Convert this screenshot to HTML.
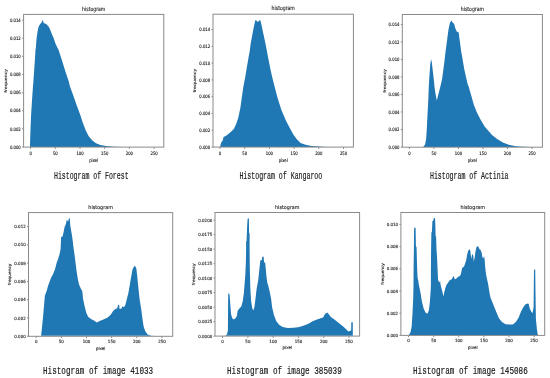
<!DOCTYPE html>
<html><head><meta charset="utf-8"><title>Histograms</title>
<style>
html,body{margin:0;padding:0;background:#fff;}
body{width:550px;height:378px;overflow:hidden;position:relative;}
svg{position:absolute;left:0;top:0;display:block;}
svg text{font-family:"DejaVu Sans","Liberation Sans",sans-serif;stroke:#262626;stroke-width:0.12px;}
svg text.cap{font-family:"Liberation Mono","DejaVu Sans Mono",monospace;font-size:10px;fill:#222;stroke:#222;stroke-width:0.2px;}
</style></head><body>
<svg width="550" height="378" viewBox="0 0 550 378">
<g>
<polygon points="30.0,147.0 30.1,141.0 30.5,129.6 31.1,115.0 32.0,100.5 33.0,86.0 33.5,80.0 34.2,70.0 34.9,60.0 35.5,50.0 35.9,47.2 36.5,39.1 37.5,32.1 38.5,27.1 40.1,24.1 41.6,22.5 42.3,20.5 43.1,20.5 43.6,23.0 46.1,24.0 48.6,26.5 50.1,29.6 51.6,33.6 53.6,38.1 55.6,44.1 58.2,49.2 58.6,50.0 61.2,58.0 63.7,66.1 66.2,74.1 68.7,81.2 69.8,86.0 73.0,94.7 76.6,104.9 80.3,115.1 82.9,123.1 85.8,130.4 88.7,136.2 92.4,140.5 96.0,143.2 100.4,144.9 106.2,146.1 113.5,146.7 123.6,147.0 135.0,147.1" fill="#1f77b4"/>
<rect x="23.6" y="14.4" width="140.2" height="132.7" fill="none" stroke="#8a8a8a" stroke-width="1"/>
<text transform="translate(30.60,154.90) scale(1,1.25)" font-size="3.80" text-anchor="middle" fill="#262626">0</text>
<text transform="translate(55.30,154.90) scale(1,1.25)" font-size="3.80" text-anchor="middle" fill="#262626">50</text>
<text transform="translate(80.00,154.90) scale(1,1.25)" font-size="3.80" text-anchor="middle" fill="#262626">100</text>
<text transform="translate(104.70,154.90) scale(1,1.25)" font-size="3.80" text-anchor="middle" fill="#262626">150</text>
<text transform="translate(129.40,154.90) scale(1,1.25)" font-size="3.80" text-anchor="middle" fill="#262626">200</text>
<text transform="translate(154.10,154.90) scale(1,1.25)" font-size="3.80" text-anchor="middle" fill="#262626">250</text>
<text transform="translate(20.80,148.73) scale(1,1.25)" font-size="3.80" text-anchor="end" fill="#262626">0.000</text>
<text transform="translate(20.80,130.60) scale(1,1.25)" font-size="3.80" text-anchor="end" fill="#262626">0.002</text>
<text transform="translate(20.80,112.47) scale(1,1.25)" font-size="3.80" text-anchor="end" fill="#262626">0.004</text>
<text transform="translate(20.80,94.34) scale(1,1.25)" font-size="3.80" text-anchor="end" fill="#262626">0.006</text>
<text transform="translate(20.80,76.21) scale(1,1.25)" font-size="3.80" text-anchor="end" fill="#262626">0.008</text>
<text transform="translate(20.80,58.08) scale(1,1.25)" font-size="3.80" text-anchor="end" fill="#262626">0.010</text>
<text transform="translate(20.80,39.95) scale(1,1.25)" font-size="3.80" text-anchor="end" fill="#262626">0.012</text>
<text transform="translate(20.80,21.82) scale(1,1.25)" font-size="3.80" text-anchor="end" fill="#262626">0.014</text>
<path d="M30.60,147.1v1.8 M55.30,147.1v1.8 M80.00,147.1v1.8 M104.70,147.1v1.8 M129.40,147.1v1.8 M154.10,147.1v1.8 M23.6,147.00h-1.5 M23.6,128.87h-1.5 M23.6,110.74h-1.5 M23.6,92.61h-1.5 M23.6,74.48h-1.5 M23.6,56.35h-1.5 M23.6,38.22h-1.5 M23.6,20.09h-1.5" stroke="#8a8a8a" stroke-width="1" fill="none"/>
<text transform="translate(93.70,10.50) scale(1,1.25)" font-size="4.60" text-anchor="middle" fill="#262626">histogram</text>
<text transform="translate(93.70,161.60) scale(1,1.25)" font-size="3.80" text-anchor="middle" fill="#262626">pixel</text>
<text transform="translate(7.02,80.75) scale(1,1.25) rotate(-90)" font-size="3.80" text-anchor="middle" fill="#262626">frequency</text>
<text class="cap" transform="translate(54,178.5) scale(0.655,1.06)">Histogram of Forest</text>
</g>
<g>
<polygon points="220.0,147.0 221.4,142.0 222.5,141.0 223.6,136.9 226.5,135.5 230.2,132.5 233.8,128.9 236.0,124.5 238.2,118.0 240.4,107.8 241.8,97.6 243.3,87.0 244.9,79.1 246.4,70.1 248.1,60.0 249.9,50.0 250.6,44.1 252.1,36.1 253.6,28.1 254.9,22.0 255.3,20.2 256.3,20.2 257.1,21.8 258.3,21.5 259.3,20.2 260.3,20.5 261.1,23.0 262.1,28.1 263.4,34.1 264.7,40.1 266.0,46.2 266.7,50.0 268.4,59.0 270.0,67.1 271.7,75.1 273.2,81.2 274.7,87.0 276.7,94.7 278.5,101.0 281.5,110.2 285.9,120.4 289.5,127.6 293.2,134.2 296.8,139.3 300.5,142.9 305.5,144.8 311.4,146.0 318.6,146.5 327.4,147.0" fill="#1f77b4"/>
<rect x="213.0" y="14.2" width="140.4" height="132.9" fill="none" stroke="#8a8a8a" stroke-width="1"/>
<text transform="translate(220.00,154.90) scale(1,1.25)" font-size="3.80" text-anchor="middle" fill="#262626">0</text>
<text transform="translate(244.70,154.90) scale(1,1.25)" font-size="3.80" text-anchor="middle" fill="#262626">50</text>
<text transform="translate(269.40,154.90) scale(1,1.25)" font-size="3.80" text-anchor="middle" fill="#262626">100</text>
<text transform="translate(294.10,154.90) scale(1,1.25)" font-size="3.80" text-anchor="middle" fill="#262626">150</text>
<text transform="translate(318.80,154.90) scale(1,1.25)" font-size="3.80" text-anchor="middle" fill="#262626">200</text>
<text transform="translate(343.50,154.90) scale(1,1.25)" font-size="3.80" text-anchor="middle" fill="#262626">250</text>
<text transform="translate(210.20,148.73) scale(1,1.25)" font-size="3.80" text-anchor="end" fill="#262626">0.000</text>
<text transform="translate(210.20,131.96) scale(1,1.25)" font-size="3.80" text-anchor="end" fill="#262626">0.002</text>
<text transform="translate(210.20,115.19) scale(1,1.25)" font-size="3.80" text-anchor="end" fill="#262626">0.004</text>
<text transform="translate(210.20,98.42) scale(1,1.25)" font-size="3.80" text-anchor="end" fill="#262626">0.006</text>
<text transform="translate(210.20,81.65) scale(1,1.25)" font-size="3.80" text-anchor="end" fill="#262626">0.008</text>
<text transform="translate(210.20,64.88) scale(1,1.25)" font-size="3.80" text-anchor="end" fill="#262626">0.010</text>
<text transform="translate(210.20,48.11) scale(1,1.25)" font-size="3.80" text-anchor="end" fill="#262626">0.012</text>
<text transform="translate(210.20,31.34) scale(1,1.25)" font-size="3.80" text-anchor="end" fill="#262626">0.014</text>
<path d="M220.00,147.1v1.8 M244.70,147.1v1.8 M269.40,147.1v1.8 M294.10,147.1v1.8 M318.80,147.1v1.8 M343.50,147.1v1.8 M213.0,147.00h-1.5 M213.0,130.23h-1.5 M213.0,113.46h-1.5 M213.0,96.69h-1.5 M213.0,79.92h-1.5 M213.0,63.15h-1.5 M213.0,46.38h-1.5 M213.0,29.61h-1.5" stroke="#8a8a8a" stroke-width="1" fill="none"/>
<text transform="translate(283.20,10.30) scale(1,1.25)" font-size="4.60" text-anchor="middle" fill="#262626">histogram</text>
<text transform="translate(283.20,161.60) scale(1,1.25)" font-size="3.80" text-anchor="middle" fill="#262626">pixel</text>
<text transform="translate(196.42,80.65) scale(1,1.25) rotate(-90)" font-size="3.80" text-anchor="middle" fill="#262626">frequency</text>
<text class="cap" transform="translate(239.4,178.5) scale(0.6583,1.06)">Histogram of Kangaroo</text>
</g>
<g>
<polygon points="423.2,147.0 425.1,144.4 426.1,139.3 426.8,129.1 427.5,114.5 428.3,100.0 428.8,86.0 429.5,75.1 430.2,65.1 431.1,59.0 431.9,63.1 432.9,72.1 433.9,80.2 434.4,86.0 435.4,93.3 436.8,100.5 438.3,94.7 440.5,86.0 442.1,79.1 443.3,70.1 444.6,60.0 445.6,51.0 446.6,44.1 447.6,36.1 448.6,29.1 449.9,23.0 451.4,20.5 452.6,22.5 454.2,24.0 455.2,28.1 456.7,31.6 458.7,32.6 459.4,38.1 460.2,44.1 461.1,51.0 462.7,60.0 464.2,69.1 466.0,77.1 467.7,84.2 468.8,87.0 471.0,94.7 473.9,104.9 476.8,112.2 480.5,119.5 484.8,126.7 489.2,131.8 492.0,134.9 497.1,139.0 502.9,142.5 508.7,144.8 516.0,146.3 523.3,146.8 532.0,147.0 540.0,147.1" fill="#1f77b4"/>
<rect x="402.3" y="14.5" width="140.1" height="132.7" fill="none" stroke="#8a8a8a" stroke-width="1"/>
<text transform="translate(409.40,155.00) scale(1,1.25)" font-size="3.80" text-anchor="middle" fill="#262626">0</text>
<text transform="translate(433.92,155.00) scale(1,1.25)" font-size="3.80" text-anchor="middle" fill="#262626">50</text>
<text transform="translate(458.44,155.00) scale(1,1.25)" font-size="3.80" text-anchor="middle" fill="#262626">100</text>
<text transform="translate(482.96,155.00) scale(1,1.25)" font-size="3.80" text-anchor="middle" fill="#262626">150</text>
<text transform="translate(507.48,155.00) scale(1,1.25)" font-size="3.80" text-anchor="middle" fill="#262626">200</text>
<text transform="translate(532.00,155.00) scale(1,1.25)" font-size="3.80" text-anchor="middle" fill="#262626">250</text>
<text transform="translate(399.50,148.73) scale(1,1.25)" font-size="3.80" text-anchor="end" fill="#262626">0.000</text>
<text transform="translate(399.50,131.22) scale(1,1.25)" font-size="3.80" text-anchor="end" fill="#262626">0.002</text>
<text transform="translate(399.50,113.71) scale(1,1.25)" font-size="3.80" text-anchor="end" fill="#262626">0.004</text>
<text transform="translate(399.50,96.20) scale(1,1.25)" font-size="3.80" text-anchor="end" fill="#262626">0.006</text>
<text transform="translate(399.50,78.69) scale(1,1.25)" font-size="3.80" text-anchor="end" fill="#262626">0.008</text>
<text transform="translate(399.50,61.18) scale(1,1.25)" font-size="3.80" text-anchor="end" fill="#262626">0.010</text>
<text transform="translate(399.50,43.67) scale(1,1.25)" font-size="3.80" text-anchor="end" fill="#262626">0.012</text>
<text transform="translate(399.50,26.16) scale(1,1.25)" font-size="3.80" text-anchor="end" fill="#262626">0.014</text>
<path d="M409.40,147.2v1.8 M433.92,147.2v1.8 M458.44,147.2v1.8 M482.96,147.2v1.8 M507.48,147.2v1.8 M532.00,147.2v1.8 M402.3,147.00h-1.5 M402.3,129.49h-1.5 M402.3,111.98h-1.5 M402.3,94.47h-1.5 M402.3,76.96h-1.5 M402.3,59.45h-1.5 M402.3,41.94h-1.5 M402.3,24.43h-1.5" stroke="#8a8a8a" stroke-width="1" fill="none"/>
<text transform="translate(472.35,10.60) scale(1,1.25)" font-size="4.60" text-anchor="middle" fill="#262626">histogram</text>
<text transform="translate(472.35,161.70) scale(1,1.25)" font-size="3.80" text-anchor="middle" fill="#262626">pixel</text>
<text transform="translate(385.72,80.85) scale(1,1.25) rotate(-90)" font-size="3.80" text-anchor="middle" fill="#262626">frequency</text>
<text class="cap" transform="translate(430,178.5) scale(0.655,1.06)">Histogram of Actinia</text>
</g>
<g>
<polygon points="41.1,335.8 42.0,327.6 43.0,317.5 44.0,305.8 44.9,295.6 46.6,291.3 48.0,286.0 49.0,283.2 51.0,278.1 53.1,274.1 55.1,269.1 56.6,263.1 58.1,259.1 59.6,254.0 60.6,249.0 61.1,237.1 62.6,236.6 63.6,232.1 64.6,227.1 65.9,224.1 66.6,220.5 67.6,220.2 68.1,222.0 68.8,218.5 69.8,218.2 70.2,225.1 71.2,231.1 72.2,237.1 73.0,243.2 73.7,249.0 74.7,256.1 75.7,264.1 76.7,272.1 78.0,280.1 79.2,285.0 80.8,288.4 82.3,291.3 83.0,298.5 84.5,305.8 86.2,312.4 88.1,316.7 91.0,318.9 93.9,320.4 96.8,322.5 99.7,321.1 103.4,319.6 107.7,317.5 110.9,314.5 113.1,311.1 115.3,308.9 117.2,308.2 118.2,304.5 119.2,305.3 119.6,308.9 121.5,308.6 122.5,306.3 124.0,307.2 125.5,304.5 126.9,298.7 128.4,292.9 129.8,284.7 131.3,276.0 132.7,268.7 134.9,265.5 136.4,268.7 137.5,278.9 138.5,289.1 139.6,299.3 141.2,308.9 142.5,319.1 143.6,326.4 145.4,331.5 147.7,334.4 150.9,335.5 155.3,335.8" fill="#1f77b4"/>
<rect x="28.5" y="212.6" width="144.2" height="123.7" fill="none" stroke="#8a8a8a" stroke-width="1"/>
<text transform="translate(36.20,343.20) scale(1,1.09)" font-size="3.99" text-anchor="middle" fill="#262626">0</text>
<text transform="translate(61.35,343.20) scale(1,1.09)" font-size="3.99" text-anchor="middle" fill="#262626">50</text>
<text transform="translate(86.50,343.20) scale(1,1.09)" font-size="3.99" text-anchor="middle" fill="#262626">100</text>
<text transform="translate(111.65,343.20) scale(1,1.09)" font-size="3.99" text-anchor="middle" fill="#262626">150</text>
<text transform="translate(136.80,343.20) scale(1,1.09)" font-size="3.99" text-anchor="middle" fill="#262626">200</text>
<text transform="translate(161.95,343.20) scale(1,1.09)" font-size="3.99" text-anchor="middle" fill="#262626">250</text>
<text transform="translate(25.70,337.79) scale(1,1.09)" font-size="3.99" text-anchor="end" fill="#262626">0.000</text>
<text transform="translate(25.70,319.52) scale(1,1.09)" font-size="3.99" text-anchor="end" fill="#262626">0.002</text>
<text transform="translate(25.70,301.25) scale(1,1.09)" font-size="3.99" text-anchor="end" fill="#262626">0.004</text>
<text transform="translate(25.70,282.98) scale(1,1.09)" font-size="3.99" text-anchor="end" fill="#262626">0.006</text>
<text transform="translate(25.70,264.71) scale(1,1.09)" font-size="3.99" text-anchor="end" fill="#262626">0.008</text>
<text transform="translate(25.70,246.44) scale(1,1.09)" font-size="3.99" text-anchor="end" fill="#262626">0.010</text>
<text transform="translate(25.70,228.17) scale(1,1.09)" font-size="3.99" text-anchor="end" fill="#262626">0.012</text>
<path d="M36.20,336.3v1.8 M61.35,336.3v1.8 M86.50,336.3v1.8 M111.65,336.3v1.8 M136.80,336.3v1.8 M161.95,336.3v1.8 M28.5,336.20h-1.5 M28.5,317.93h-1.5 M28.5,299.66h-1.5 M28.5,281.39h-1.5 M28.5,263.12h-1.5 M28.5,244.85h-1.5 M28.5,226.58h-1.5" stroke="#8a8a8a" stroke-width="1" fill="none"/>
<text transform="translate(100.60,208.60) scale(1,1.09)" font-size="4.83" text-anchor="middle" fill="#262626">histogram</text>
<text transform="translate(100.60,349.50) scale(1,1.09)" font-size="3.99" text-anchor="middle" fill="#262626">pixel</text>
<text transform="translate(11.38,274.45) scale(1,1.09) rotate(-90)" font-size="3.99" text-anchor="middle" fill="#262626">frequency</text>
<text class="cap" transform="translate(43,374.2) scale(0.7667,1.03)">Histogram of image 41033</text>
</g>
<g>
<polygon points="225.3,335.8 227.0,334.2 227.9,330.5 228.2,294.2 228.9,293.0 229.6,294.9 230.4,305.8 231.1,314.5 232.3,318.2 233.7,319.6 235.5,318.2 236.9,316.0 237.6,310.9 239.1,308.7 241.3,306.5 242.7,301.5 243.9,292.7 244.5,285.0 244.9,280.2 245.4,273.1 245.9,261.1 246.1,249.0 246.1,241.6 246.6,241.1 247.1,227.0 247.6,219.0 248.3,218.0 248.9,219.0 249.1,233.1 249.6,233.6 249.6,249.0 249.8,268.1 250.1,278.2 250.2,285.0 250.6,292.7 251.2,301.5 252.2,308.0 253.3,310.5 254.4,307.3 255.5,298.5 256.5,289.8 257.3,285.0 258.2,280.2 259.0,273.1 259.7,266.1 260.4,260.3 262.0,260.1 262.2,257.0 263.0,256.5 263.7,257.0 264.0,262.1 265.2,263.1 265.7,268.1 266.4,276.1 267.2,282.2 268.1,285.0 269.6,291.3 271.1,298.5 272.1,307.3 274.0,315.3 276.2,321.1 279.1,324.7 282.7,326.9 287.8,327.9 293.6,327.7 298.0,327.2 301.0,326.4 305.4,324.9 309.0,323.5 312.6,321.3 316.3,319.8 319.9,318.4 323.1,317.6 325.0,314.0 327.2,312.5 328.6,314.0 330.8,316.9 333.7,319.1 336.6,321.3 340.3,324.2 343.2,326.4 346.1,329.3 348.3,331.5 350.2,330.7 351.2,330.4 351.3,322.3 352.8,322.3 352.8,335.8" fill="#1f77b4"/>
<rect x="215.0" y="212.5" width="144.6" height="123.6" fill="none" stroke="#8a8a8a" stroke-width="1"/>
<text transform="translate(222.60,343.00) scale(1,1.09)" font-size="3.99" text-anchor="middle" fill="#262626">0</text>
<text transform="translate(247.88,343.00) scale(1,1.09)" font-size="3.99" text-anchor="middle" fill="#262626">50</text>
<text transform="translate(273.16,343.00) scale(1,1.09)" font-size="3.99" text-anchor="middle" fill="#262626">100</text>
<text transform="translate(298.44,343.00) scale(1,1.09)" font-size="3.99" text-anchor="middle" fill="#262626">150</text>
<text transform="translate(323.72,343.00) scale(1,1.09)" font-size="3.99" text-anchor="middle" fill="#262626">200</text>
<text transform="translate(349.00,343.00) scale(1,1.09)" font-size="3.99" text-anchor="middle" fill="#262626">250</text>
<text transform="translate(212.20,337.69) scale(1,1.09)" font-size="3.99" text-anchor="end" fill="#262626">0.0000</text>
<text transform="translate(212.20,323.19) scale(1,1.09)" font-size="3.99" text-anchor="end" fill="#262626">0.0025</text>
<text transform="translate(212.20,308.69) scale(1,1.09)" font-size="3.99" text-anchor="end" fill="#262626">0.0050</text>
<text transform="translate(212.20,294.19) scale(1,1.09)" font-size="3.99" text-anchor="end" fill="#262626">0.0075</text>
<text transform="translate(212.20,279.69) scale(1,1.09)" font-size="3.99" text-anchor="end" fill="#262626">0.0100</text>
<text transform="translate(212.20,265.19) scale(1,1.09)" font-size="3.99" text-anchor="end" fill="#262626">0.0125</text>
<text transform="translate(212.20,250.69) scale(1,1.09)" font-size="3.99" text-anchor="end" fill="#262626">0.0150</text>
<text transform="translate(212.20,236.19) scale(1,1.09)" font-size="3.99" text-anchor="end" fill="#262626">0.0175</text>
<text transform="translate(212.20,221.69) scale(1,1.09)" font-size="3.99" text-anchor="end" fill="#262626">0.0200</text>
<path d="M222.60,336.1v1.8 M247.88,336.1v1.8 M273.16,336.1v1.8 M298.44,336.1v1.8 M323.72,336.1v1.8 M349.00,336.1v1.8 M215.0,336.10h-1.5 M215.0,321.60h-1.5 M215.0,307.10h-1.5 M215.0,292.60h-1.5 M215.0,278.10h-1.5 M215.0,263.60h-1.5 M215.0,249.10h-1.5 M215.0,234.60h-1.5 M215.0,220.10h-1.5" stroke="#8a8a8a" stroke-width="1" fill="none"/>
<text transform="translate(287.30,208.50) scale(1,1.09)" font-size="4.83" text-anchor="middle" fill="#262626">histogram</text>
<text transform="translate(287.30,349.30) scale(1,1.09)" font-size="3.99" text-anchor="middle" fill="#262626">pixel</text>
<text transform="translate(195.34,274.30) scale(1,1.09) rotate(-90)" font-size="3.99" text-anchor="middle" fill="#262626">frequency</text>
<text class="cap" transform="translate(227,374.2) scale(0.7667,1.03)">Histogram of image 385039</text>
</g>
<g>
<polygon points="408.8,335.3 410.6,332.0 411.7,326.2 412.5,313.1 413.2,298.5 413.5,285.0 413.6,268.0 413.9,249.0 414.1,230.0 414.1,228.3 414.8,227.6 415.6,228.1 415.9,246.2 416.6,247.2 416.6,249.0 416.9,260.0 417.2,270.1 417.6,278.1 418.2,280.2 418.9,285.0 420.5,292.7 421.9,301.5 423.7,308.7 425.5,312.4 427.4,313.8 428.9,310.2 429.9,301.5 430.6,291.3 430.9,285.0 430.9,273.1 431.1,249.0 431.4,232.6 431.9,232.1 432.4,221.0 433.4,220.5 433.6,218.5 434.4,218.0 435.1,218.5 435.4,227.1 435.6,236.1 436.1,236.6 436.5,249.0 437.1,258.0 437.6,270.1 438.1,280.2 439.2,282.2 440.2,281.2 440.6,285.0 441.5,288.4 442.6,292.7 443.4,296.4 444.2,292.7 445.2,288.4 446.4,285.0 447.7,283.2 449.7,280.2 451.7,279.2 452.5,278.0 453.4,275.8 454.4,278.5 455.8,279.2 457.2,277.5 460.1,275.7 461.1,273.2 462.1,268.1 464.1,266.6 465.1,263.6 466.1,260.6 467.1,255.1 468.1,251.1 469.4,249.2 470.3,250.6 470.9,256.1 471.3,259.1 471.9,255.1 472.6,254.1 473.3,256.1 473.8,261.6 474.6,258.1 475.4,252.1 476.4,247.6 477.6,246.1 478.6,247.1 479.6,249.6 480.6,250.1 481.7,253.1 482.4,257.1 483.2,258.6 484.2,256.1 484.7,260.1 485.2,267.0 486.0,274.2 488.2,284.4 489.3,291.5 490.4,297.3 493.3,304.5 496.2,311.8 499.1,318.4 502.0,322.0 505.6,324.2 509.3,324.6 512.9,324.6 515.8,322.0 518.7,317.6 520.9,311.8 523.1,307.5 525.3,304.5 527.5,303.4 528.6,303.8 529.9,308.9 531.4,311.8 532.5,313.3 533.6,307.5 534.0,269.8 535.2,269.5 535.5,293.1 535.9,319.1 536.9,329.3 537.9,335.3" fill="#1f77b4"/>
<rect x="400.9" y="212.5" width="143.8" height="122.9" fill="none" stroke="#8a8a8a" stroke-width="1"/>
<text transform="translate(408.60,342.30) scale(1,1.09)" font-size="3.99" text-anchor="middle" fill="#262626">0</text>
<text transform="translate(433.70,342.30) scale(1,1.09)" font-size="3.99" text-anchor="middle" fill="#262626">50</text>
<text transform="translate(458.80,342.30) scale(1,1.09)" font-size="3.99" text-anchor="middle" fill="#262626">100</text>
<text transform="translate(483.90,342.30) scale(1,1.09)" font-size="3.99" text-anchor="middle" fill="#262626">150</text>
<text transform="translate(509.00,342.30) scale(1,1.09)" font-size="3.99" text-anchor="middle" fill="#262626">200</text>
<text transform="translate(534.10,342.30) scale(1,1.09)" font-size="3.99" text-anchor="middle" fill="#262626">250</text>
<text transform="translate(398.10,336.99) scale(1,1.09)" font-size="3.99" text-anchor="end" fill="#262626">0.000</text>
<text transform="translate(398.10,314.79) scale(1,1.09)" font-size="3.99" text-anchor="end" fill="#262626">0.002</text>
<text transform="translate(398.10,292.59) scale(1,1.09)" font-size="3.99" text-anchor="end" fill="#262626">0.004</text>
<text transform="translate(398.10,270.39) scale(1,1.09)" font-size="3.99" text-anchor="end" fill="#262626">0.006</text>
<text transform="translate(398.10,248.19) scale(1,1.09)" font-size="3.99" text-anchor="end" fill="#262626">0.008</text>
<text transform="translate(398.10,225.99) scale(1,1.09)" font-size="3.99" text-anchor="end" fill="#262626">0.010</text>
<path d="M408.60,335.4v1.8 M433.70,335.4v1.8 M458.80,335.4v1.8 M483.90,335.4v1.8 M509.00,335.4v1.8 M534.10,335.4v1.8 M400.9,335.40h-1.5 M400.9,313.20h-1.5 M400.9,291.00h-1.5 M400.9,268.80h-1.5 M400.9,246.60h-1.5 M400.9,224.40h-1.5" stroke="#8a8a8a" stroke-width="1" fill="none"/>
<text transform="translate(472.80,208.50) scale(1,1.09)" font-size="4.83" text-anchor="middle" fill="#262626">histogram</text>
<text transform="translate(472.80,348.60) scale(1,1.09)" font-size="3.99" text-anchor="middle" fill="#262626">pixel</text>
<text transform="translate(383.78,273.95) scale(1,1.09) rotate(-90)" font-size="3.99" text-anchor="middle" fill="#262626">frequency</text>
<text class="cap" transform="translate(413,374.2) scale(0.7667,1.03)">Histogram of image 145086</text>
</g>
</svg>
</body></html>
